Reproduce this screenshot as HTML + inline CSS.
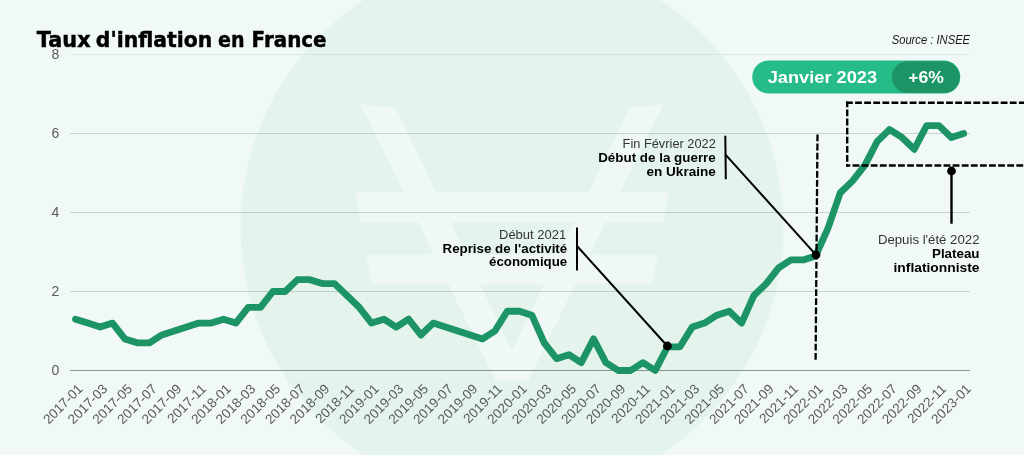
<!DOCTYPE html>
<html lang="fr">
<head>
<meta charset="utf-8">
<title>Taux d'inflation en France</title>
<style>
html,body{margin:0;padding:0;background:#f1f9f8;}
body{width:1024px;height:455px;overflow:hidden;font-family:"Liberation Sans","DejaVu Sans",sans-serif;}
svg{display:block;}
text{font-family:"Liberation Sans","DejaVu Sans",sans-serif;}
.tick{font-size:13.5px;fill:#5a5a5a;}
.ann{font-size:13px;fill:#333;}
.annb{font-size:13px;font-weight:bold;fill:#000;}
</style>
</head>
<body>
<svg width="1024" height="455" viewBox="0 0 1024 455">
<rect x="0" y="0" width="1024" height="455" fill="#f1f9f8"/>
<circle cx="512" cy="227.5" r="271.5" fill="#e4f4ec"/>
<g fill="#f0f8f7">
<polygon points="361,104.7 395.5,107.8 512,350.8 629.8,107.6 662.8,104.7 528.2,380.8 495.7,380.8"/>
<polygon points="355.8,191.9 668.2,191.9 663.1,221.8 360.9,221.8"/>
<polygon points="366.5,254.7 657.5,254.7 652.7,283.5 371.3,283.5"/>
</g>

<g stroke="#00140f" stroke-opacity="0.17" stroke-width="1">
<line x1="70" x2="970" y1="370.50" y2="370.50" stroke-opacity="0.43"/>
<line x1="70" x2="970" y1="291.50" y2="291.50"/>
<line x1="70" x2="970" y1="212.50" y2="212.50"/>
<line x1="70" x2="970" y1="133.50" y2="133.50"/>
<line x1="70" x2="970" y1="54.50" y2="54.50" stroke-opacity="0.07"/>
</g>
<g class="tick" text-anchor="end" style="font-size:14px">
<text x="59.3" y="375.40">0</text>
<text x="59.3" y="296.40">2</text>
<text x="59.3" y="217.40">4</text>
<text x="59.3" y="138.40">6</text>
<text x="59.3" y="59.40">8</text>
</g>
<g class="tick" text-anchor="end">
<text transform="translate(80.50,386.5) rotate(-45)" x="0" y="4.5">2017-01</text>
<text transform="translate(105.17,386.5) rotate(-45)" x="0" y="4.5">2017-03</text>
<text transform="translate(129.84,386.5) rotate(-45)" x="0" y="4.5">2017-05</text>
<text transform="translate(154.51,386.5) rotate(-45)" x="0" y="4.5">2017-07</text>
<text transform="translate(179.18,386.5) rotate(-45)" x="0" y="4.5">2017-09</text>
<text transform="translate(203.85,386.5) rotate(-45)" x="0" y="4.5">2017-11</text>
<text transform="translate(228.52,386.5) rotate(-45)" x="0" y="4.5">2018-01</text>
<text transform="translate(253.19,386.5) rotate(-45)" x="0" y="4.5">2018-03</text>
<text transform="translate(277.86,386.5) rotate(-45)" x="0" y="4.5">2018-05</text>
<text transform="translate(302.53,386.5) rotate(-45)" x="0" y="4.5">2018-07</text>
<text transform="translate(327.20,386.5) rotate(-45)" x="0" y="4.5">2018-09</text>
<text transform="translate(351.87,386.5) rotate(-45)" x="0" y="4.5">2018-11</text>
<text transform="translate(376.54,386.5) rotate(-45)" x="0" y="4.5">2019-01</text>
<text transform="translate(401.21,386.5) rotate(-45)" x="0" y="4.5">2019-03</text>
<text transform="translate(425.88,386.5) rotate(-45)" x="0" y="4.5">2019-05</text>
<text transform="translate(450.55,386.5) rotate(-45)" x="0" y="4.5">2019-07</text>
<text transform="translate(475.22,386.5) rotate(-45)" x="0" y="4.5">2019-09</text>
<text transform="translate(499.89,386.5) rotate(-45)" x="0" y="4.5">2019-11</text>
<text transform="translate(524.56,386.5) rotate(-45)" x="0" y="4.5">2020-01</text>
<text transform="translate(549.23,386.5) rotate(-45)" x="0" y="4.5">2020-03</text>
<text transform="translate(573.90,386.5) rotate(-45)" x="0" y="4.5">2020-05</text>
<text transform="translate(598.57,386.5) rotate(-45)" x="0" y="4.5">2020-07</text>
<text transform="translate(623.24,386.5) rotate(-45)" x="0" y="4.5">2020-09</text>
<text transform="translate(647.91,386.5) rotate(-45)" x="0" y="4.5">2020-11</text>
<text transform="translate(672.58,386.5) rotate(-45)" x="0" y="4.5">2021-01</text>
<text transform="translate(697.25,386.5) rotate(-45)" x="0" y="4.5">2021-03</text>
<text transform="translate(721.92,386.5) rotate(-45)" x="0" y="4.5">2021-05</text>
<text transform="translate(746.59,386.5) rotate(-45)" x="0" y="4.5">2021-07</text>
<text transform="translate(771.26,386.5) rotate(-45)" x="0" y="4.5">2021-09</text>
<text transform="translate(795.93,386.5) rotate(-45)" x="0" y="4.5">2021-11</text>
<text transform="translate(820.60,386.5) rotate(-45)" x="0" y="4.5">2022-01</text>
<text transform="translate(845.27,386.5) rotate(-45)" x="0" y="4.5">2022-03</text>
<text transform="translate(869.94,386.5) rotate(-45)" x="0" y="4.5">2022-05</text>
<text transform="translate(894.61,386.5) rotate(-45)" x="0" y="4.5">2022-07</text>
<text transform="translate(919.28,386.5) rotate(-45)" x="0" y="4.5">2022-09</text>
<text transform="translate(943.95,386.5) rotate(-45)" x="0" y="4.5">2022-11</text>
<text transform="translate(968.62,386.5) rotate(-45)" x="0" y="4.5">2023-01</text>
</g>
<polyline points="75.50,319.15 87.84,323.10 100.17,327.05 112.50,323.10 124.84,338.90 137.18,342.85 149.51,342.85 161.84,334.95 174.18,331.00 186.52,327.05 198.85,323.10 211.19,323.10 223.52,319.15 235.86,323.10 248.19,307.30 260.52,307.30 272.86,291.50 285.20,291.50 297.53,279.65 309.87,279.65 322.20,283.60 334.54,283.60 346.87,295.45 359.21,307.30 371.54,323.10 383.88,319.15 396.21,327.05 408.55,319.15 420.88,334.95 433.22,323.10 445.55,327.05 457.89,331.00 470.22,334.95 482.56,338.90 494.89,331.00 507.23,311.25 519.56,311.25 531.89,315.20 544.23,342.85 556.57,358.65 568.90,354.70 581.24,362.60 593.57,338.90 605.91,362.60 618.24,370.50 630.58,370.50 642.91,362.60 655.25,370.50 667.58,346.80 679.92,346.80 692.25,327.05 704.59,323.10 716.92,315.20 729.25,311.25 741.59,323.10 753.93,295.45 766.26,283.60 778.60,267.80 790.93,259.90 803.27,259.90 815.60,255.95 827.94,228.30 840.27,192.75 852.61,180.90 864.94,165.10 877.28,141.40 889.61,129.55 901.95,137.45 914.28,149.30 926.62,125.60 938.95,125.60 951.29,137.45 963.62,133.50" fill="none" stroke="#1c9466" stroke-width="6.8" stroke-linecap="round" stroke-linejoin="round"/>
<g stroke="#000" fill="none" stroke-dasharray="6.8 2.3">
<line x1="817.5" y1="134.5" x2="815.6" y2="359.7" stroke-width="2.3"/>
<line x1="846" y1="102.8" x2="1030" y2="102.8" stroke-width="2.4"/>
<line x1="847.2" y1="101.6" x2="847.2" y2="166.7" stroke-width="2.4" stroke-dashoffset="1.2"/>
<line x1="846" y1="165.5" x2="1030" y2="165.5" stroke-width="2.4" stroke-dashoffset="2.55"/>
</g>
<g stroke="#000" stroke-width="2" fill="none">
<line x1="725.3" y1="135.8" x2="725.8" y2="179.3"/>
<line x1="725.5" y1="154.6" x2="816" y2="254.8"/>
<line x1="577" y1="227.5" x2="577" y2="270.5"/>
<line x1="577" y1="246" x2="667.3" y2="346"/>
<line x1="951.5" y1="171" x2="951.5" y2="223.7" stroke-width="2.4"/>
</g>
<g fill="#000">
<circle cx="816" cy="254.8" r="4.4"/>
<circle cx="667.4" cy="346" r="4.4"/>
<circle cx="951.5" cy="171" r="4.4"/>
</g>
<g text-anchor="end">
<text class="ann" x="715.8" y="147.6" textLength="93.2" lengthAdjust="spacingAndGlyphs">Fin Février 2022</text>
<text class="annb" x="715.8" y="161.6" textLength="117.6" lengthAdjust="spacingAndGlyphs">Début de la guerre</text>
<text class="annb" x="715.8" y="175.5" textLength="69.3" lengthAdjust="spacingAndGlyphs">en Ukraine</text>
<text class="ann" x="566.2" y="239.2" textLength="67.2" lengthAdjust="spacingAndGlyphs">Début 2021</text>
<text class="annb" x="567.2" y="253" textLength="124.7" lengthAdjust="spacingAndGlyphs">Reprise de l'activité</text>
<text class="annb" x="567.2" y="266.3" textLength="78.2" lengthAdjust="spacingAndGlyphs">économique</text>
<text class="ann" x="979.5" y="243.8" textLength="101.6" lengthAdjust="spacingAndGlyphs">Depuis l'été 2022</text>
<text class="annb" x="979.5" y="258" textLength="47.5" lengthAdjust="spacingAndGlyphs">Plateau</text>
<text class="annb" x="979.5" y="272" textLength="86" lengthAdjust="spacingAndGlyphs">inflationniste</text>
</g>
<rect x="752.2" y="60.5" width="208.1" height="33.1" rx="16.55" fill="#26bc88"/>
<rect x="891.9" y="61.3" width="67.9" height="31.8" rx="15.9" fill="#1c9466"/>
<text x="767.7" y="82.8" font-size="17.2" font-weight="bold" fill="#fff" textLength="109.4" lengthAdjust="spacingAndGlyphs">Janvier 2023</text>
<text x="908.3" y="82.8" font-size="17.2" font-weight="bold" fill="#fff" textLength="35.6" lengthAdjust="spacingAndGlyphs">+6%</text>
<text x="970.1" y="43.9" font-size="12.4" font-style="italic" fill="#1a1a1a" text-anchor="end" textLength="78.4" lengthAdjust="spacingAndGlyphs">Source : INSEE</text>
<text x="37" y="46.9" font-size="21" font-weight="bold" fill="#000" stroke="#000" stroke-width="0.45" style="font-family:'DejaVu Sans','Liberation Sans',sans-serif"><tspan x="36.8" textLength="53.8" lengthAdjust="spacingAndGlyphs">Taux</tspan> <tspan x="95.8" textLength="116.5" lengthAdjust="spacingAndGlyphs">d'inflation</tspan> <tspan x="218" textLength="26.5" lengthAdjust="spacingAndGlyphs">en</tspan> <tspan x="251.6" textLength="75" lengthAdjust="spacingAndGlyphs">France</tspan></text>
</svg>
</body>
</html>
